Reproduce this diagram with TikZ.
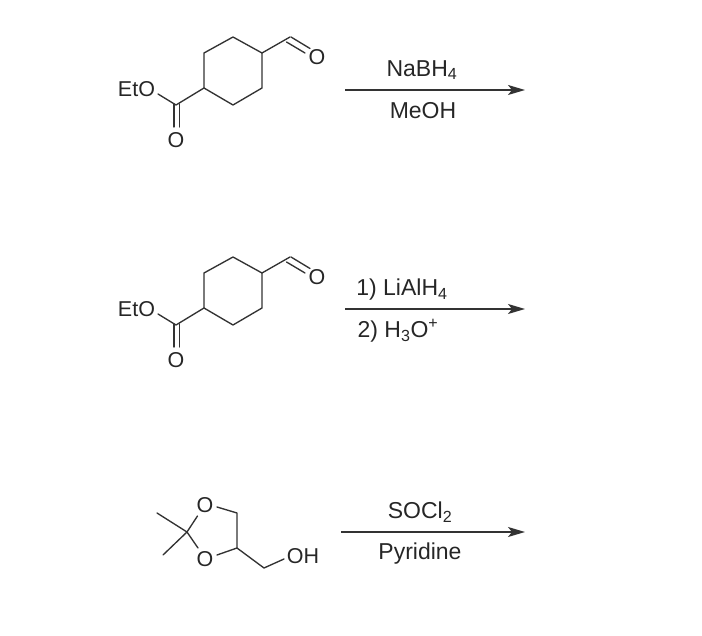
\documentclass[tikz,border=0pt]{standalone}
\usepackage{fontspec}
\setmainfont{Liberation Sans}
\usetikzlibrary{arrows.meta}
\tikzset{
  bond/.style={line width=1.35pt,color=black!80,line cap=round,line join=round},
  atom/.style={inner sep=0pt,text=black!85,font=\fontsize{21.5}{25}\selectfont},
  reagent/.style={inner sep=0pt,text=black!85,font=\fontsize{23}{27}\selectfont},
  rxn/.style={line width=1.5pt,color=black!80,-{Stealth[length=17pt,width=10pt,inset=4pt]}}
}
\newcommand{\estermol}[2]{%
  \begin{scope}[yshift=#2*-1pt]
    \coordinate (#1r1) at (233,37);
    \coordinate (#1r2) at (262,53);
    \coordinate (#1r3) at (262,88);
    \coordinate (#1r4) at (233,105);
    \coordinate (#1r5) at (204,88);
    \coordinate (#1r6) at (204,53);
    \coordinate (#1cho) at (290,37);
    \coordinate (#1choa) at (291,37);
    \coordinate (#1chob) at (310,48.5);
    \coordinate (#1choc) at (286.5,42);
    \coordinate (#1chod) at (305,53);
    \coordinate (#1est) at (176,105);
    \coordinate (#1esta) at (174,104);
    \coordinate (#1estb) at (174,127);
    \coordinate (#1estc) at (179.5,104);
    \coordinate (#1estd) at (179.5,127);
    \coordinate (#1oe) at (158,94);
    \node[atom] (#1eto) at (136.5,89) {EtO};
    \node[atom] (#1oa) at (317,57) {O};
    \node[atom] (#1ob) at (176,140) {O};
    \draw[bond] (#1r1) -- (#1r2) -- (#1r3) -- (#1r4) -- (#1r5) -- (#1r6) -- cycle;
    \draw[bond] (#1r2) -- (#1cho);
    \draw[bond] (#1choa) -- (#1chob);
    \draw[bond] (#1choc) -- (#1chod);
    \draw[bond] (#1r5) -- (#1est) -- (#1oe);
    \draw[bond] (#1esta) -- (#1estb);
    \draw[bond] (#1estc) -- (#1estd);
  \end{scope}}
\begin{document}
\begin{tikzpicture}[x=1pt,y=-1pt]
  \useasboundingbox (0,0) rectangle (702,636);
  \estermol{a}{0}
  \estermol{b}{220}
  % third molecule
  \node[atom] (o1) at (205,505) {O};
  \node[atom] (o2) at (205,559) {O};
  \node[atom] (oh) at (303,556) {OH};
  \coordinate (cq) at (187,532);
  \coordinate (me1) at (157,513);
  \coordinate (me2) at (163,555);
  \coordinate (ch2) at (237,513);
  \coordinate (ch) at (237,548);
  \coordinate (cm) at (264,568);
  \coordinate (o1r) at (217,507);
  \coordinate (o1l) at (197.5,516);
  \coordinate (o2r) at (217,555);
  \coordinate (o2l) at (198,548);
  \coordinate (ohl) at (284,559);
  \draw[bond] (me1) -- (cq) -- (me2);
  \draw[bond] (o1l) -- (cq) -- (o2l);
  \draw[bond] (o1r) -- (ch2) -- (ch) -- (o2r);
  \draw[bond] (ch) -- (cm) -- (ohl);
  % arrows
  \coordinate (a1s) at (345,90);
  \coordinate (a1e) at (525,90);
  \coordinate (a2s) at (345,309);
  \coordinate (a2e) at (525,309);
  \coordinate (a3s) at (341,532);
  \coordinate (a3e) at (525,532);
  \draw[rxn] (a1s) -- (a1e);
  \draw[rxn] (a2s) -- (a2e);
  \draw[rxn] (a3s) -- (a3e);
  \node[reagent] (t1) at (422,70) {NaBH\textsubscript{4}};
  \node[reagent] (t2) at (423,111) {MeOH};
  \node[reagent] (t3) at (402,290) {1) LiAlH\textsubscript{4}};
  \node[reagent] (t4) at (398,331) {2) H\textsubscript{3}O\textsuperscript{+}};
  \node[reagent] (t5) at (420,512) {SOCl\textsubscript{2}};
  \node[reagent] (t6) at (420,554) {Pyridine};
\end{tikzpicture}
\end{document}
